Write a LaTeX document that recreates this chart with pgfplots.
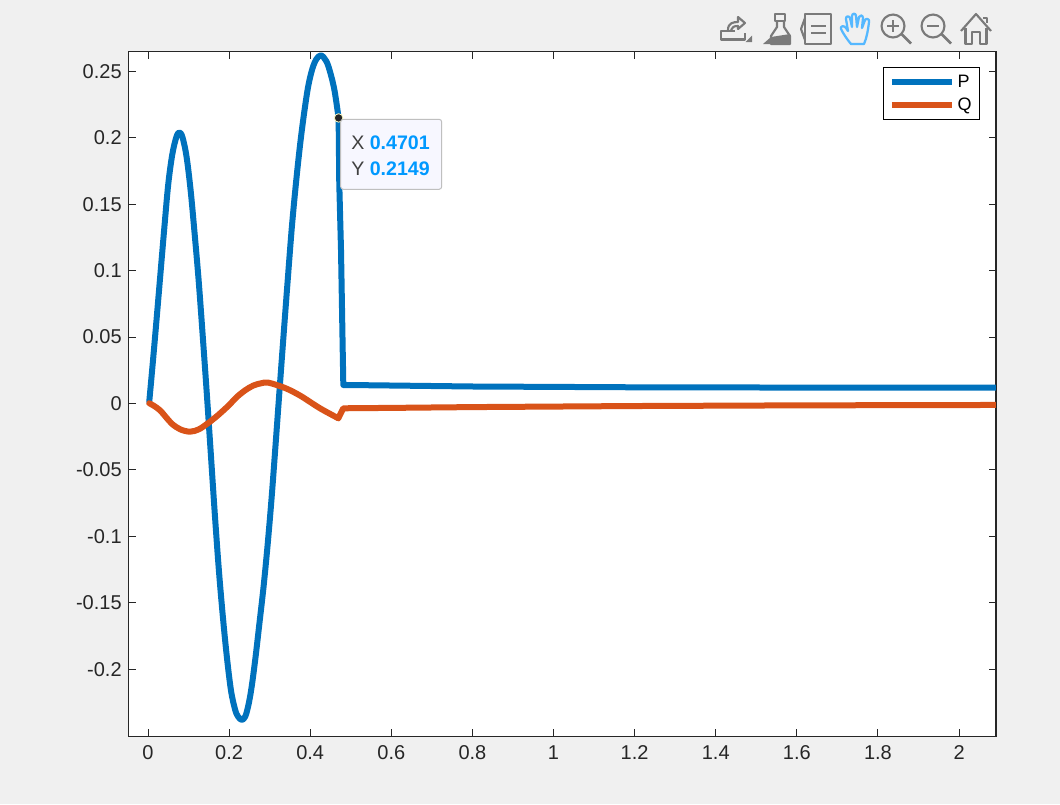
\documentclass[border=0pt]{standalone}
\usepackage{pgfplots}
\usepackage{fontspec}
\setmainfont{Liberation Sans}
\pgfplotsset{compat=1.18}
\definecolor{figbg}{HTML}{F0F0F0}
\definecolor{axc}{HTML}{262626}
\definecolor{pblue}{HTML}{0072BD}
\definecolor{qorange}{HTML}{D95319}
\definecolor{tipblue}{HTML}{0099FF}
\definecolor{icong}{HTML}{7A7A7A}
\definecolor{handb}{HTML}{55B8FF}
\begin{document}
\begin{tikzpicture}
\useasboundingbox (0,0) rectangle (795pt,-603pt);
\fill[figbg] (0,0) rectangle (795pt,-603pt);
\begin{axis}[
  at={(96.375pt,-552.375pt)}, anchor=south west,
  scale only axis, width=650.6pt, height=513.75pt,
  xmin=-0.048, xmax=2.091, ymin=-0.2506, ymax=0.2649,
  xtick={0,0.2,0.4,0.6,0.8,1,1.2,1.4,1.6,1.8,2},
  ytick={-0.2,-0.15,-0.1,-0.05,0,0.05,0.1,0.15,0.2,0.25},
  scaled ticks=false,
  /pgf/number format/assume math mode=true,
  /pgf/number format/fixed,
  /pgf/number format/precision=2,
  tick align=inside, tick pos=both,
  major tick length=5.6pt,
  axis line style={axc,line width=0.8pt},
  tick style={axc,line width=0.7pt},
  tick label style={font=\fontsize{15}{17}\selectfont, text=axc},
  xticklabel style={yshift=-3.5pt},
  yticklabel style={xshift=-1.6pt},
  axis background/.style={fill=white},
  legend style={at={(0.9819,0.9769)},anchor=north east,draw=black,line width=0.75pt,
    font=\fontsize{13.5}{15}\selectfont, fill=white, inner xsep=4.1pt, inner ysep=3.3pt,
    row sep=2.5pt, cells={anchor=west}},
  legend image code/.code={\draw[#1,line width=4.5pt,line cap=butt] (0pt,0pt) -- (45pt,0pt);},
  every axis plot/.append style={line join=round,line cap=round},
]
\addplot[pblue,line width=4.5pt,smooth,tension=0.55] coordinates {
(.0032,.0014)(.012,.031)(.02,.059)(.03,.095)(.04,.131)(.05,.165)(.06,.1875)(.07,.2005)
(.0772,.2040)(.085,.2005)(.095,.186)(.105,.161)(.115,.128)(.125,.0925)(.135,.051)(.145,.0078)
(.155,-.038)(.165,-.084)(.175,-.126)(.185,-.1615)(.195,-.192)(.205,-.2165)(.215,-.2305)
(.222,-.2355)(.2311,-.2381)(.24,-.2355)(.248,-.2265)(.2557,-.2131)(.265,-.1915)(.275,-.165)
(.285,-.138)(.295,-.1065)(.305,-.0705)(.315,-.0295)(.325,.0125)(.335,.054)(.345,.0945)
(.355,.1335)(.365,.166)(.375,.1945)(.385,.2185)(.395,.2385)(.405,.2515)(.415,.259)
(.4266,.2620)(.44,.2575)(.45,.2485)(.46,.2355)(.4701,.2149)};
\addlegendentry{P}
\addplot[pblue,line width=4.5pt,forget plot] coordinates {
(.4701,.2149)(.4717,.1659)(.476,.1155)(.4802,.0403)(.4817,.0139)(.5,.0139)
(.8,.0128)(1.2,.0122)(1.6,.0120)(2.091,.0119)};
\addplot[qorange,line width=4.5pt,smooth,tension=0.55] coordinates {
(.0032,.0002)(.015,-.0018)(.03,-.0052)(.045,-.0105)(.06,-.0155)(.08,-.0195)(.1036,-.0212)
(.125,-.0195)(.145,-.0155)(.16,-.0120)(.175,-.0082)(.2,-.0012)(.2187,.0048)(.24,.0100)
(.2597,.0135)(.28,.0153)(.297,.0157)(.3337,.0122)(.36,.0085)(.383,.0045)(.4242,-.0036)(.4693,-.0111)};
\addlegendentry{Q}
\addplot[qorange,line width=4.5pt,forget plot] coordinates {
(.4693,-.0111)(.4817,-.0036)(.6,-.0033)(.8,-.0027)(1.2,-.0019)(1.6,-.0014)(2.091,-.0011)};
\addplot[only marks,forget plot,mark=*,mark size=3.2pt,
  mark options={fill=black!85,draw=yellow!25,line width=0.6pt}] coordinates {(.4701,.2149)};
\end{axis}
\begin{scope}[x=.75pt,y=-.75pt]
% data tip
\draw[rounded corners=2pt,fill=white!97!blue,draw=black!25,line width=0.75pt]
  (340.7,119.3) rectangle (441.7,189.3);
\node[anchor=base west,inner sep=0pt,text=black!75,font=\fontsize{14.7}{17}\selectfont] at (351,149.5) {X \textcolor{tipblue}{\textbf{0.4701}}};
\node[anchor=base west,inner sep=0pt,text=black!75,font=\fontsize{14.7}{17}\selectfont] at (351,175) {Y \textcolor{tipblue}{\textbf{0.2149}}};
% toolbar
\begin{scope}[icong,line width=1.6pt,line join=round]
 % export
 \draw (735,31) -- (721,31) -- (721,39.5) -- (745,39.5) -- (745,33);
 \draw (728,30) .. controls (728,23) and (733,22) .. (738,22) -- (738,17) -- (745,23) -- (738,29) -- (738,26) .. controls (734,26) and (732,27) .. (731,30);
 \fill (752,35.5) -- (752,42) -- (745.5,42) -- cycle;
 % brush
 \draw (775,14) rectangle (785,21);
 \draw (777,21) -- (777,27) -- (771,36) -- (771,44) -- (790,44) -- (790,36) -- (784,27) -- (784,21);
 \fill (763,44) -- (771,37) -- (790,34) -- (790,44) -- cycle;
 % legend
 \draw (805,14) rectangle (831,44);
 \draw (805,18) -- (801,29) -- (805,40);
 \draw (811,26) -- (826,26) (811,33) -- (826,33);
 % zoom in
 \draw (893,26) circle (8.6pt);
 \draw[line width=1.9pt] (901.5,34) -- (911,43.5);
 \draw (887,26) -- (899,26) (893,20) -- (893,32);
 % zoom out
 \draw (933,26) circle (8.6pt);
 \draw[line width=1.9pt] (941.5,34) -- (951,43.5);
 \draw (927,26) -- (939,26);
 % home
 \draw (961,31) -- (976,14) -- (991,31);
 \draw (965.5,28) -- (965.5,44) -- (972,44) -- (972,32) -- (980,32) -- (980,44) -- (986.5,44) -- (986.5,28);
 \draw (983,18) -- (987,18) -- (987,23);
\end{scope}
% hand
\draw[handb,line width=1.7pt,line join=round,line cap=round]
 (851,44) .. controls (846,38) and (843,33) .. (841,29) .. controls (840,26) and (844,25) .. (846,28) -- (848,31)
 -- (846,19) .. controls (845.5,16) and (849,15.5) .. (850,18) -- (852,27)
 -- (852,16) .. controls (852,13) and (856,13) .. (856,16) -- (857,27)
 -- (859,17) .. controls (859.5,14.5) and (863,15) .. (863,18) -- (862,28)
 -- (865,20) .. controls (866,18) and (870,19) .. (869,22) .. controls (868,30) and (867,37) .. (864,44) -- cycle;
\end{scope}
\end{tikzpicture}
\end{document}
